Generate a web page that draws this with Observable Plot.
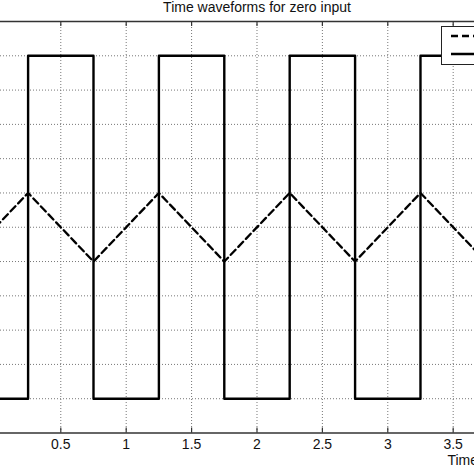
<!DOCTYPE html>
<html>
<head>
<meta charset="utf-8">
<script src="https://cdn.jsdelivr.net/npm/d3@7"></script>
<script src="https://cdn.jsdelivr.net/npm/@observablehq/plot@0.6"></script>
<style>
  html, body { margin: 0; padding: 0; background: #fff; }
  #wrap { position: relative; width: 474px; height: 474px; overflow: hidden; background: #fff; }
  #legend { position: absolute; left: 441px; top: 26px; width: 80px; height: 37px; border: 1px solid #222; background: #fff; }
</style>
</head>
<body>
<div id="wrap">
  <div id="chart"></div>
  <div id="legend">
    <svg width="80" height="37">
      <line x1="9" x2="80" y1="9" y2="9" stroke="#000" stroke-width="2.4" stroke-dasharray="7,4"></line>
      <line x1="9" x2="80" y1="27" y2="27" stroke="#000" stroke-width="2.4"></line>
    </svg>
  </div>
</div>
<script>
// Square wave (solid) breakpoints
const squareTime  = [0, 0.25, 0.25, 0.75, 0.75, 1.25, 1.25, 1.75, 1.75, 2.25, 2.25, 2.75, 2.75, 3.25, 3.25, 3.75, 3.75, 4];
const squareValue = [-1, -1, 1, 1, -1, -1, 1, 1, -1, -1, 1, 1, -1, -1, 1, 1, -1, -1];
// Triangle wave (dashed) breakpoints
const triTime  = [0, 0.25, 0.75, 1.25, 1.75, 2.25, 2.75, 3.25, 3.75, 4];
const triValue = [0, 0.2, -0.2, 0.2, -0.2, 0.2, -0.2, 0.2, -0.2, 0];
// Axis ticks
const xTicks = [0, 0.5, 1, 1.5, 2, 2.5, 3, 3.5, 4];
const xTickLabels = ["0", "0.5", "1", "1.5", "2", "2.5", "3", "3.5", "4"];
const yTicks = [-1.2, -1, -0.8, -0.6, -0.4, -0.2, 0, 0.2, 0.4, 0.6, 0.8, 1, 1.2];
const titleText = "Time waveforms for zero input";
const xLabelText = "Time";

const xDomain = [0.039, 3.663];
const square = squareTime.map((t, i) => ({t, v: squareValue[i]}));
const tri = triTime.map((t, i) => ({t, v: triValue[i]}));
const xt = xTicks.map((t, i) => ({t, label: xTickLabels[i]}))
  .filter(d => d.t > xDomain[0] && d.t < xDomain[1]);

const H = 474, mt = 21, mb = 41.5;
const innerH = H - mt - mb;
const font = "'Liberation Sans', Arial, Helvetica, sans-serif";
const gridStyle = {stroke: "#777", strokeWidth: 1, strokeDasharray: "1,2"};

const chart = Plot.plot({
  width: 474,
  height: H,
  marginTop: mt,
  marginBottom: mb,
  marginLeft: 0,
  marginRight: 0,
  style: {fontFamily: font, background: "white", overflow: "hidden"},
  x: {domain: xDomain, axis: null},
  y: {domain: [-1.2, 1.2], axis: null},
  marks: [
    Plot.ruleX(xTicks, gridStyle),
    Plot.ruleY(yTicks.slice(1, -1), gridStyle),
    Plot.line(tri, {x: "t", y: "v", stroke: "#000", strokeWidth: 2.3, strokeDasharray: "7,4"}),
    Plot.line(square, {x: "t", y: "v", stroke: "#000", strokeWidth: 2.4}),
    Plot.ruleY([yTicks[0], yTicks[yTicks.length - 1]], {stroke: "#333", strokeWidth: 1.3}),
    Plot.ruleX(xTicks, {stroke: "#333", strokeWidth: 1.2, insetTop: innerH - 5}),
    Plot.ruleX(xTicks, {stroke: "#333", strokeWidth: 1.2, insetBottom: innerH - 5}),
    Plot.text(xt, {x: "t", y: yTicks[0], text: "label", dy: 12, fontSize: 14, fill: "#111"}),
    Plot.text([titleText], {x: 2, y: yTicks[yTicks.length - 1], dy: -13.5, fontSize: 14, fill: "#111"}),
    Plot.text([xLabelText], {x: 3.456, y: yTicks[0], dy: 28, fontSize: 14, textAnchor: "start", fill: "#111"})
  ]
});
document.getElementById("chart").appendChild(chart);
</script>
</body>
</html>
